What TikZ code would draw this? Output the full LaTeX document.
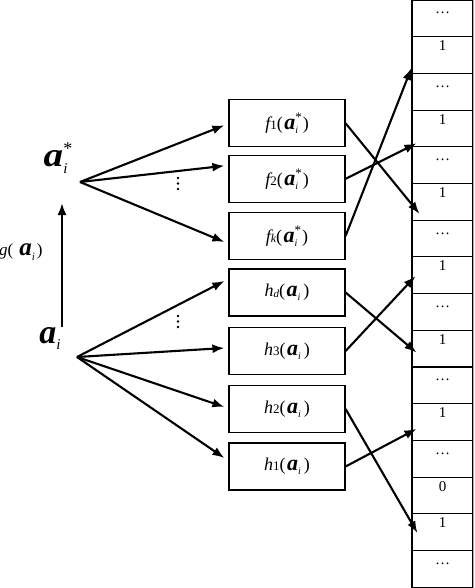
\documentclass[tikz,border=0pt]{standalone}
\usepackage{fontspec}
\setmainfont{Liberation Serif}
\usetikzlibrary{arrows.meta}
\newcommand{\ba}[1]{{\fontsize{#1}{#1}\selectfont\bfseries\itshape a}}
\newcommand{\aboxs}{\kern1.5pt\ba{22}\rlap{\raisebox{-4pt}{\fontsize{10}{10}\selectfont\itshape i}}\raisebox{8pt}{\fontsize{13}{13}\selectfont *}\kern1pt}
\newcommand{\abox}{\kern1.5pt\ba{22}\raisebox{-4pt}{\fontsize{10}{10}\selectfont\itshape i}\kern3pt}
\begin{document}
\begin{tikzpicture}[x=1pt,y=-1pt,
  box/.style={draw,line width=1.2pt,minimum width=116pt,minimum height=47pt,inner sep=0pt,font=\fontsize{18}{20}\selectfont},
  cell/.style={draw,line width=1.1pt,minimum width=61pt,minimum height=36.7pt,inner sep=0pt},
  celltxt/.style={anchor=base,yshift=-14.5pt,inner sep=0pt,font=\fontsize{15}{15}\selectfont},
  arr/.style={line width=2.1pt,-{Latex[length=12pt,width=9pt]}},
  dot/.style={circle,fill,inner sep=0pt,minimum size=2.8pt}]
\useasboundingbox (0,0) rectangle (474,588);
% table column
\foreach \i/\t in {0/\ldots,1/1,2/\ldots,3/1,4/\ldots,5/1,6/\ldots,7/1,8/\ldots,9/1,10/\ldots,11/1,12/\ldots,13/0,14/1,15/\ldots}
  \node[cell,label={[celltxt]north:\t}] (c\i) at (442.5,{18.35+36.7*\i}) {};
\draw[gray!60,line width=1.5pt] (c0.north east) -- (c15.south east);
% boxes
\node[box] (f1) at (287,123.3) {{\itshape f}{\fontsize{13}{13}\selectfont 1}(\aboxs)};
\node[box] (f2) at (287,178.8) {{\itshape f}{\fontsize{13}{13}\selectfont 2}(\aboxs)};
\node[box] (fk) at (287,236) {{\itshape f}{\fontsize{12}{12}\selectfont\itshape k}(\aboxs)};
\node[box] (hd) at (287,292.5) {{\itshape h}\raisebox{-1pt}{\fontsize{11}{11}\selectfont\itshape d}(\abox)};
\node[box] (h3) at (287,351) {{\itshape h}{\fontsize{13}{13}\selectfont 3}(\abox)};
\node[box] (h2) at (287,409) {{\itshape h}{\fontsize{13}{13}\selectfont 2}(\abox)};
\node[box] (h1) at (287,466.5) {{\itshape h}{\fontsize{13}{13}\selectfont 1}(\abox)};
% left labels
\node[inner sep=0pt] (astar) at (58,158) {\scalebox{1.15}[1]{\ba{34}}\rlap{\raisebox{-7pt}{\fontsize{15}{15}\selectfont\itshape i}}\raisebox{12pt}{\fontsize{18}{18}\selectfont *}};
\node[inner sep=0pt] (ai) at (50,338) {\ba{34}\raisebox{-6pt}{\fontsize{15}{15}\selectfont\itshape i}};
\node[inner sep=0pt,anchor=west] (glab) at (-1,252) {{\fontsize{17}{17}\selectfont\itshape g}{\fontsize{17}{17}\selectfont(}\kern6pt\ba{25}\raisebox{-5pt}{\fontsize{11}{11}\selectfont\itshape i}\kern2pt{\fontsize{17}{17}\selectfont)}};
\coordinate (s) at (80,182);
\coordinate (t) at (77,357);
\coordinate (g0) at (62,327);
\coordinate (g1) at (62,203);
\draw[arr] (g0) -- (g1);
% vertical dots
\node[dot] (d1a) at (178,178) {};
\node[dot] (d1b) at (178,183.5) {};
\node[dot] (d1c) at (178,189) {};
\node[dot] (d2a) at (178,316) {};
\node[dot] (d2b) at (178,321.5) {};
\node[dot] (d2c) at (178,327) {};
% left arrows
\draw[arr] (s) -- ([xshift=-4pt,yshift=-2pt]f1.west);
\draw[arr] (s) -- ([xshift=-4pt,yshift=13pt]f2.west);
\draw[arr] (s) -- ([xshift=-4pt,yshift=-6pt]fk.west);
\draw[arr] (t) -- ([xshift=-4pt,yshift=11.5pt]hd.west);
\draw[arr] (t) -- ([xshift=-4pt,yshift=3pt]h3.west);
\draw[arr] (t) -- ([xshift=-4pt,yshift=2pt]h2.west);
\draw[arr] (t) -- ([xshift=-4pt,yshift=8.5pt]h1.west);
% right arrows
\draw[arr] (f1.east) -- ([xshift=8pt,yshift=7pt]c5.south west);
\draw[arr] (f2.east) -- ([xshift=5pt,yshift=4pt]c3.south west);
\draw[arr] (fk.east) -- ([xshift=0pt,yshift=6pt]c1.south west);
\draw[arr] (hd.east) -- ([xshift=5pt,yshift=15pt]c9.south west);
\draw[arr] (h3.east) -- ([xshift=4pt,yshift=18pt]c7.south west);
\draw[arr] (h2.east) -- ([xshift=6pt,yshift=18pt]c14.south west);
\draw[arr] (h1.east) -- ([xshift=5pt,yshift=12pt]c11.south west);
\end{tikzpicture}
\end{document}
